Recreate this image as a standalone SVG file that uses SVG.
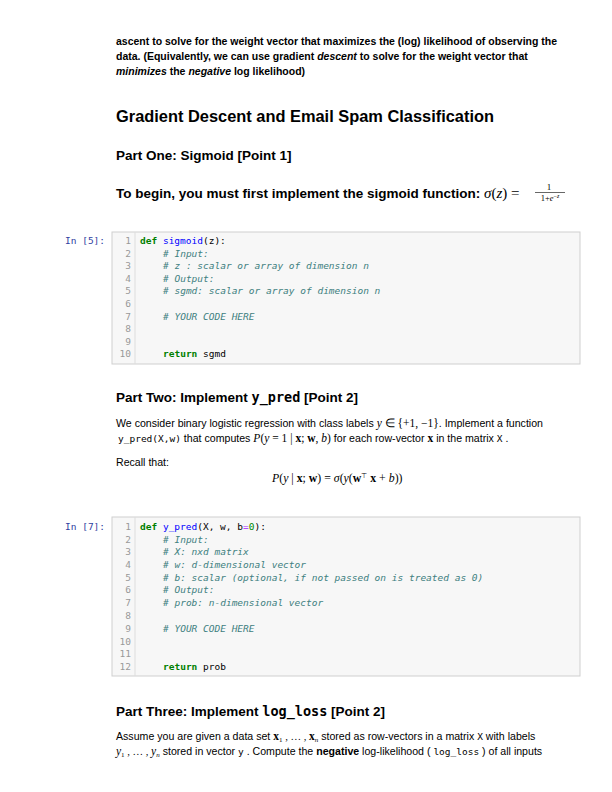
<svg xmlns="http://www.w3.org/2000/svg" width="612" height="792" viewBox="0 0 612 792">
<style>
.t{font-family:"Liberation Sans",Arial,sans-serif;fill:#000}
.b{font-weight:bold}
.m{font-family:"Liberation Serif","Times New Roman",serif;fill:#000}
.c{font-family:"DejaVu Sans Mono",monospace;font-size:9.5px}
.cm{fill:#408080;font-style:italic}
.kw{fill:#008000;font-weight:bold}
.fn{fill:#0000ff}
.ln{fill:#999;text-anchor:end;font-family:"DejaVu Sans Mono",monospace;font-size:9.5px}
.pr{fill:#303f9f;font-family:"DejaVu Sans Mono",monospace;font-size:9.5px}
.box{fill:#f7f7f7;stroke:#cfcfcf;stroke-width:1}
.gut{stroke:#ddd;stroke-width:1}
.tt{font-family:"DejaVu Sans Mono",monospace}
</style>
<rect width="612" height="792" fill="#fff"/>
<g id="intro">
<text class="t b" x="116" y="45" font-size="10.5">ascent to solve for the weight vector that maximizes the (log) likelihood of observing the</text>
<text class="t b" x="116" y="60" font-size="10.5">data. (Equivalently, we can use gradient <tspan font-style="italic">descent</tspan> to solve for the weight vector that</text>
<text class="t b" x="116" y="75" font-size="10.5"><tspan font-style="italic">minimizes</tspan> the <tspan font-style="italic">negative</tspan> log likelihood)</text>
</g>
<g id="heading">
<text class="t b" x="116" y="122" font-size="16.4">Gradient Descent and Email Spam Classification</text>
<text class="t b" x="116" y="160" font-size="13.5">Part One: Sigmoid [Point 1]</text>
<text class="t b" x="116" y="198" font-size="13.5">To begin, you must first implement the sigmoid function: <tspan class="m" font-weight="normal" font-style="italic" font-size="15">σ</tspan><tspan class="m" font-weight="normal" font-size="15">(</tspan><tspan class="m" font-weight="normal" font-style="italic" font-size="15">z</tspan><tspan class="m" font-weight="normal" font-size="15">) =</tspan></text>
<text class="m" x="549" y="190" font-size="9" text-anchor="middle">1</text>
<line x1="535" y1="192.5" x2="565" y2="192.5" stroke="#000" stroke-width="0.6"/>
<text class="m" x="550" y="201" font-size="8.5" text-anchor="middle">1+<tspan font-style="italic">e</tspan><tspan font-size="6" dy="-3">−<tspan font-style="italic">z</tspan></tspan></text>
</g>
<g id="cell5">
<text class="pr" x="65" y="244">In [5]:</text>
<rect class="box" x="112" y="232" width="468" height="132"/>
<line class="gut" x1="135" y1="232" x2="135" y2="364"/>
<text class="ln" x="131" y="244">1</text><text class="ln" x="131" y="256.6">2</text><text class="ln" x="131" y="269.2">3</text><text class="ln" x="131" y="281.8">4</text><text class="ln" x="131" y="294.4">5</text><text class="ln" x="131" y="307">6</text><text class="ln" x="131" y="319.6">7</text><text class="ln" x="131" y="332.2">8</text><text class="ln" x="131" y="344.8">9</text><text class="ln" x="131" y="357.4">10</text>
<text class="c" x="140" y="244"><tspan class="kw">def</tspan> <tspan class="fn">sigmoid</tspan>(z):</text>
<text class="c cm" x="163" y="256.6"># Input:</text>
<text class="c cm" x="163" y="269.2"># z : scalar or array of dimension n</text>
<text class="c cm" x="163" y="281.8"># Output:</text>
<text class="c cm" x="163" y="294.4"># sgmd: scalar or array of dimension n</text>
<text class="c cm" x="163" y="319.6"># YOUR CODE HERE</text>
<text class="c" x="163" y="357.4"><tspan class="kw">return</tspan> sgmd</text>
</g>
<g id="part2">
<text class="t b" x="116" y="402" font-size="13.5">Part Two: Implement <tspan class="tt">y_pred</tspan> [Point 2]</text>
<text class="t" x="116" y="427" font-size="10.6">We consider binary logistic regression with class labels <tspan class="m" font-style="italic" font-size="11.5">y</tspan><tspan class="m" font-size="11.5"> ∈ {+1, −1}</tspan>. Implement a function</text>
<text class="t" x="118" y="442" font-size="10.6"><tspan class="tt" font-size="9.5">y_pred(X,w)</tspan>  that computes <tspan class="m" font-style="italic" font-size="11.5">P</tspan><tspan class="m" font-size="11.5">(</tspan><tspan class="m" font-style="italic" font-size="11.5">y</tspan><tspan class="m" font-size="11.5"> = 1 | </tspan><tspan class="m b" font-size="11.5">x</tspan><tspan class="m" font-size="11.5">; </tspan><tspan class="m b" font-size="11.5">w</tspan><tspan class="m" font-size="11.5">, </tspan><tspan class="m" font-style="italic" font-size="11.5">b</tspan><tspan class="m" font-size="11.5">)</tspan> for each row-vector <tspan class="m b" font-size="11.5">x</tspan> in the matrix  <tspan class="tt" font-size="9.5">X</tspan> .</text>
<text class="t" x="116" y="466" font-size="10.6">Recall that:</text>
<text class="m" x="272" y="482" font-size="11.8"><tspan font-style="italic">P</tspan>(<tspan font-style="italic">y</tspan> | <tspan font-weight="bold">x</tspan>; <tspan font-weight="bold">w</tspan>) = <tspan font-style="italic">σ</tspan>(<tspan font-style="italic">y</tspan>(<tspan font-weight="bold">w</tspan><tspan font-size="7" dy="-4">⊤</tspan><tspan dy="4"> </tspan><tspan font-weight="bold">x</tspan> + <tspan font-style="italic">b</tspan>))</text>
</g>
<g id="cell7">
<text class="pr" x="65" y="530">In [7]:</text>
<rect class="box" x="112" y="517" width="468" height="159"/>
<line class="gut" x1="135" y1="517" x2="135" y2="676"/>
<text class="ln" x="131" y="530">1</text><text class="ln" x="131" y="543">2</text><text class="ln" x="131" y="555">3</text><text class="ln" x="131" y="568">4</text><text class="ln" x="131" y="581">5</text><text class="ln" x="131" y="593">6</text><text class="ln" x="131" y="606">7</text><text class="ln" x="131" y="619">8</text><text class="ln" x="131" y="632">9</text><text class="ln" x="131" y="645">10</text><text class="ln" x="131" y="657">11</text><text class="ln" x="131" y="670">12</text>
<text class="c" x="140" y="530"><tspan class="kw">def</tspan> <tspan class="fn">y_pred</tspan>(X, w, b<tspan fill="#aa22ff">=</tspan><tspan fill="#080">0</tspan>):</text>
<text class="c cm" x="163" y="543"># Input:</text>
<text class="c cm" x="163" y="555"># X: nxd matrix</text>
<text class="c cm" x="163" y="568"># w: d-dimensional vector</text>
<text class="c cm" x="163" y="581"># b: scalar (optional, if not passed on is treated as 0)</text>
<text class="c cm" x="163" y="593"># Output:</text>
<text class="c cm" x="163" y="606"># prob: n-dimensional vector</text>
<text class="c cm" x="163" y="632"># YOUR CODE HERE</text>
<text class="c" x="163" y="670"><tspan class="kw">return</tspan> prob</text>
</g>
<g id="part3">
<text class="t b" x="116" y="716" font-size="13.5">Part Three: Implement <tspan class="tt">log_loss</tspan> [Point 2]</text>
<text class="t" x="116" y="740" font-size="10.6">Assume you are given a data set <tspan class="m b" font-size="11.5">x</tspan><tspan class="m" font-size="7" dy="2">1</tspan><tspan class="m" dy="-2"> , … , </tspan><tspan class="m b" font-size="11.5">x</tspan><tspan class="m" font-size="7" font-style="italic" dy="2">n</tspan><tspan dy="-2">  stored as row-vectors in a matrix  </tspan><tspan class="tt" font-size="9.5">X</tspan>  with labels</text>
<text class="t" x="116" y="755" font-size="10.6"><tspan class="m" font-style="italic" font-size="11.5">y</tspan><tspan class="m" font-size="7" dy="2">1</tspan><tspan class="m" dy="-2"> , … , </tspan><tspan class="m" font-style="italic" font-size="11.5">y</tspan><tspan class="m" font-size="7" font-style="italic" dy="2">n</tspan><tspan dy="-2"> stored in vector  </tspan><tspan class="tt" font-size="9.5">y</tspan> . Compute the <tspan font-weight="bold">negative</tspan> log-likelihood ( <tspan class="tt" font-size="9.5">log_loss</tspan> ) of all inputs</text>
</g>
</svg>
